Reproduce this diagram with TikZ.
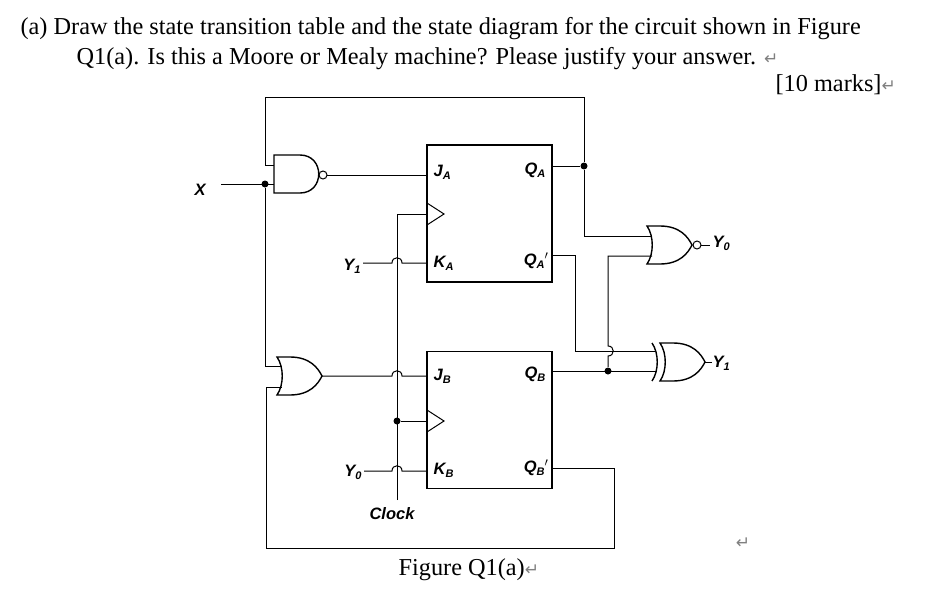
\documentclass[tikz,border=0pt]{standalone}
\usepackage{fontspec}
\setmainfont{Liberation Serif}
\newfontfamily\arialf{Liberation Sans}
\newfontfamily\djv{DejaVu Sans}
\newcommand{\ret}{{\djv\color{gray}\fontsize{17}{17}\selectfont ↵}}
\newcommand{\sig}[2]{{\arialf\bfseries\itshape #1\raisebox{-0.35ex}{\fontsize{11}{11}\selectfont #2}}}
\begin{document}
\begin{tikzpicture}[x=1pt,y=-1pt,line width=1.2pt,
  wire/.style={line width=1pt},
  lbl/.style={inner sep=0pt,font=\arialf\bfseries\itshape\fontsize{16.5}{16.5}\selectfont},
  ff/.style={draw,line width=1.4pt,minimum width=125pt,minimum height=137pt,inner sep=0pt},
  dot/.style={circle,fill,inner sep=0pt,minimum size=7pt},
  title/.style={inner sep=0pt,anchor=base west,font=\fontsize{24.3}{24.3}\selectfont},
  orbody/.pic={\draw[line width=1.4pt] (0,-19) -- (13,-19) .. controls (33,-19) and (41,-8) .. (45,0)
     .. controls (41,8) and (33,19) .. (13,19) -- (0,19) .. controls (7,9) and (7,-9) .. (0,-19) -- cycle;}]
\useasboundingbox (0,0) rectangle (939,602);

% text
\node[title] (t1) at (20,35) {(a) Draw the state transition table and the state diagram for the circuit shown in Figure};
\node[title] (t2) at (76,64) {Q1(a). Is this a Moore or Mealy machine? Please justify your answer. \ret};
\node[title] (t3) at (775,91) {[10 marks]\ret};
\node[title] (t4) at (398,575) {Figure Q1(a)\ret};
\node[inner sep=0pt] (r1) at (743,543) {\ret};

% flip-flops
\node[ff] (FA) at (489.5,213.5) {};
\node[ff] (FB) at (489.5,420) {};
\node[lbl,anchor=west] (JA) at (433,172) {\sig{J}{A}};
\node[lbl,anchor=east] (QA) at (546,170) {\sig{Q}{A}};
\node[lbl,anchor=west] (KA) at (433,263) {\sig{K}{A}};
\node[lbl,anchor=east] (QAn) at (549,261) {\sig{Q}{A}$'$};
\node[lbl,anchor=west] (JB) at (433,376) {\sig{J}{B}};
\node[lbl,anchor=east] (QB) at (546,374) {\sig{Q}{B}};
\node[lbl,anchor=west] (KB) at (433,470) {\sig{K}{B}};
\node[lbl,anchor=east] (QBn) at (549,468) {\sig{Q}{B}$'$};
\draw[line width=1pt] (427,203) -- (444,214) -- (427,225);
\draw[line width=1pt] (427,410) -- (444,421) -- (427,432);

% gates
\draw[line width=1.4pt] (274,155) -- (300,155) .. controls (325,155) and (325,193) .. (300,193) -- (274,193) -- cycle;
\draw[line width=1pt] (323,175) circle[radius=4];
\pic at (277,376) {orbody};
\pic at (647,245) {orbody};
\draw[line width=1pt] (697,245) circle[radius=4];
\pic at (660,362) {orbody};
\draw[line width=1.4pt] (652,343) .. controls (659,353) and (659,371) .. (652,381);

% labels
\node[lbl] (X) at (200,190) {X};
\node[lbl,anchor=east] (Y1i) at (361,266) {\sig{Y}{1}};
\node[lbl,anchor=east] (Y0i) at (362,472) {\sig{Y}{0}};
\node[lbl] (Ck) at (392,514) {Clock};
\node[lbl,anchor=west] (Y0o) at (712,243) {\sig{Y}{0}};
\node[lbl,anchor=west] (Y1o) at (712,363) {\sig{Y}{1}};

% wires
\node[dot] (dX) at (265,184) {};
\node[dot] (dQA) at (584,166) {};
\node[dot] (dCk) at (397,421) {};
\node[dot] (dQB) at (608,371) {};
\draw[wire] (221,184) -- (274,184);
\draw[wire] (dX) -- (265,366) -- (282,366);
\draw[wire] (274,165) -- (265,165) -- (265,97) -- (584,97) -- (dQA);
\draw[wire] (327,175) -- (427,175);
\draw[wire] (552,166) -- (dQA) -- (584,236) -- (652,236);
\draw[wire] (363,263) -- (392,263) .. controls (392,256) and (402,256) .. (402,263) -- (427,263);
\draw[wire] (322,376) -- (392,376) .. controls (392,369) and (402,369) .. (402,376) -- (427,376);
\draw[wire] (364,471) -- (392,471) .. controls (392,464) and (402,464) .. (402,471) -- (427,471);
\draw[wire] (397,500) -- (397,214) -- (427,214);
\draw[wire] (dCk) -- (427,421);
\draw[wire] (552,255) -- (575,255) -- (575,351) -- (656,351);
\draw[wire] (652,256) -- (608,256) -- (608,346) .. controls (615,346) and (615,356) .. (608,356) -- (dQB);
\draw[wire] (552,371) -- (656,371);
\draw[wire] (701,245) -- (710,245);
\draw[wire] (705,362) -- (712,362);
\draw[wire] (552,468) -- (614,468) -- (614,548) -- (266,548) -- (266,387) -- (282,387);
\end{tikzpicture}
\end{document}
